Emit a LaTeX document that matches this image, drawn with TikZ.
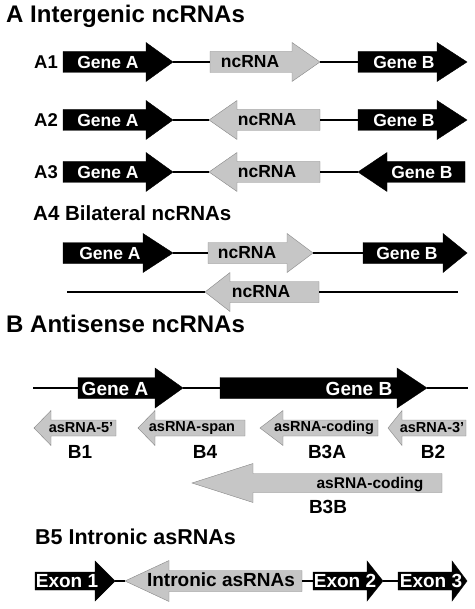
\documentclass[tikz,border=0pt]{standalone}
\usepackage{fontspec}
\setmainfont{Liberation Sans}
\newcommand{\bh}{10}
\newcommand{\hh}{19}
% arrow pointing right: style, name, left, head base, tip, y
\newcommand{\fwdarrow}[6]{%
\draw[#1](#3,#6-\bh)--(#4,#6-\bh)--(#4,#6-\hh)--(#5,#6)--(#4,#6+\hh)--(#4,#6+\bh)--(#3,#6+\bh)--cycle;
\coordinate(#2L) at (#3,#6);
\coordinate(#2R) at (#5,#6);
}
% arrow pointing left: style, name, tip, head base, right, y
\newcommand{\revarrow}[6]{%
\draw[#1](#3,#6)--(#4,#6-\hh)--(#4,#6-\bh)--(#5,#6-\bh)--(#5,#6+\bh)--(#4,#6+\bh)--(#4,#6+\hh)--cycle;
\coordinate(#2L) at (#3,#6);
\coordinate(#2R) at (#5,#6);
}
\tikzset{
fsize/.style = {font=\bfseries\fontsize{#1}{#1}\selectfont}
}
\begin{document}
\begin{tikzpicture}[x=1pt, y=-1pt,
			gene/.style = {fill=black, draw=black, thin},
			ncrna/.style = {fill=gray!45, draw=gray!95, thin},
			strand/.style = {line width=2pt},
			intext/.style = {text=white, fsize=17.5, inner sep=0pt},
			nctext/.style = {fsize=17.5, inner sep=0pt},
			rowlabel/.style = {anchor=east, fsize=18.5, inner sep=0pt},
			heading/.style = {anchor=base west, fsize=#1, inner sep=0pt},
		]
		\useasboundingbox (0,0) rectangle (474,609);

		\node[heading=24](TA) at (6,23){A Intergenic ncRNAs};

		% A1
		\renewcommand{\bh}{10.5}\renewcommand{\hh}{19.5}
		\node[rowlabel](LA1) at (58,62){A1};
		\fwdarrow{gene}{GA1}{63}{146}{173}{62}
		\fwdarrow{ncrna}{NC1}{210}{292}{320}{62}
		\fwdarrow{gene}{GB1}{358}{437}{467}{62}
		\node[intext](tGA1) at (108,62){Gene A};
		\node[nctext](tNC1) at (250,62){ncRNA};
		\node[intext](tGB1) at (404,62){Gene B};
		\draw[strand](GA1R)--(NC1L);
		\draw[strand](NC1R)--(GB1L);

		% A2
		\node[rowlabel](LA2) at (58,120){A2};
		\fwdarrow{gene}{GA2}{63}{146}{173}{120}
		\revarrow{ncrna}{NC2}{209}{237}{320}{120}
		\fwdarrow{gene}{GB2}{358}{437}{467}{120}
		\node[intext](tGA2) at (108,120){Gene A};
		\node[nctext](tNC2) at (267,120){ncRNA};
		\node[intext](tGB2) at (404,120){Gene B};
		\draw[strand](GA2R)--(NC2L);
		\draw[strand](NC2R)--(GB2L);

		% A3
		\node[rowlabel](LA3) at (58,172){A3};
		\fwdarrow{gene}{GA3}{63}{146}{173}{172}
		\revarrow{ncrna}{NC3}{209}{237}{320}{172}
		\revarrow{gene}{GB3}{358}{387}{465}{172}
		\node[intext](tGA3) at (108,172){Gene A};
		\node[nctext](tNC3) at (267,172){ncRNA};
		\node[intext](tGB3) at (422,172){Gene B};
		\draw[strand](GA3R)--(NC3L);
		\draw[strand](NC3R)--(GB3L);

		% A4
		\node[heading=20.5](TA4) at (33,221){A4 Bilateral ncRNAs};
		\fwdarrow{gene}{GA4}{63}{143}{173}{253}
		\fwdarrow{ncrna}{NC4}{208}{287}{313}{253}
		\fwdarrow{gene}{GB4}{363}{443}{467}{253}
		\node[intext](tGA4) at (110,253){Gene A};
		\node[nctext](tNC4) at (247,253){ncRNA};
		\node[intext](tGB4) at (407,253){Gene B};
		\draw[strand](GA4R)--(NC4L);
		\draw[strand](NC4R)--(GB4L);
		\coordinate(S4L) at (67,292);
		\coordinate(S4R) at (458,292);
		\revarrow{ncrna}{NC5}{205}{230}{319}{292}
		\node[nctext](tNC5) at (261,292){ncRNA};
		\draw[strand](S4L)--(NC5L);
		\draw[strand](NC5R)--(S4R);

		% B
		\node[heading=24](TB) at (6,332){B Antisense ncRNAs};
		\coordinate(SBL) at (33,388);
		\coordinate(SBR) at (468,388);
		\renewcommand{\bh}{10.5}\renewcommand{\hh}{20}
		\fwdarrow{gene}{GAB}{78}{155}{183}{388}
		\fwdarrow{gene}{GBB}{220}{397}{427}{388}
		\node[intext, fsize=19](tGAB) at (115,389){Gene A};
		\node[intext, fsize=19](tGBB) at (359,389){Gene B};
		\draw[strand](SBL)--(GABL);
		\draw[strand](GABR)--(GBBL);
		\draw[strand](GBBR)--(SBR);

		\renewcommand{\bh}{8}\renewcommand{\hh}{17.5}
		\revarrow{ncrna}{AS1}{34}{51}{116}{428}
		\revarrow{ncrna}{AS4}{138}{155}{245}{428}
		\revarrow{ncrna}{AS3}{260}{283}{378}{428}
		\revarrow{ncrna}{AS2}{388}{402}{466}{428}
		\node[nctext, fsize=14.5](tAS1) at (81,428){asRNA-5’};
		\node[nctext, fsize=14.5](tAS4) at (192,428){asRNA-span};
		\node[nctext, fsize=14.5](tAS3) at (324,428){asRNA-coding};
		\node[nctext, fsize=14.5](tAS2) at (432,428){asRNA-3’};
		\node[nctext, fsize=19](LB1) at (80,452){B1};
		\node[nctext, fsize=19](LB4) at (205,452){B4};
		\node[nctext, fsize=19](LB3A) at (327,452){B3A};
		\node[nctext, fsize=19](LB2) at (433,452){B2};

		\renewcommand{\bh}{9.5}\renewcommand{\hh}{19.5}
		\revarrow{ncrna}{AS5}{192}{253}{442}{483}
		\node[nctext, fsize=15.5](tAS5) at (370,485){asRNA-coding};
		\node[nctext, fsize=19](LB3B) at (328,507){B3B};

		% B5
		\node[heading=21.5](TB5) at (35,544){B5 Intronic asRNAs};
		\renewcommand{\bh}{9}\renewcommand{\hh}{20}
		\fwdarrow{gene}{EX1}{35}{95}{115}{581}
		\fwdarrow{gene}{EX2}{313}{367}{383}{581}
		\fwdarrow{gene}{EX3}{398}{452}{467}{581}
		\renewcommand{\bh}{10.5}\renewcommand{\hh}{20.5}
		\revarrow{ncrna}{INT}{125}{169}{302}{581}
		\node[intext, fsize=19](tEX1) at (67,581){Exon 1};
		\node[intext, fsize=19](tEX2) at (345,581){Exon 2};
		\node[intext, fsize=19](tEX3) at (431,581){Exon 3};
		\node[nctext, fsize=19](tINT) at (221,580){Intronic asRNAs};
		\draw[strand](EX1R)--(INTL);
		\draw[strand](INTR)--(EX2L);
		\draw[strand](EX2R)--(EX3L);
	\end{tikzpicture}
\end{document}
